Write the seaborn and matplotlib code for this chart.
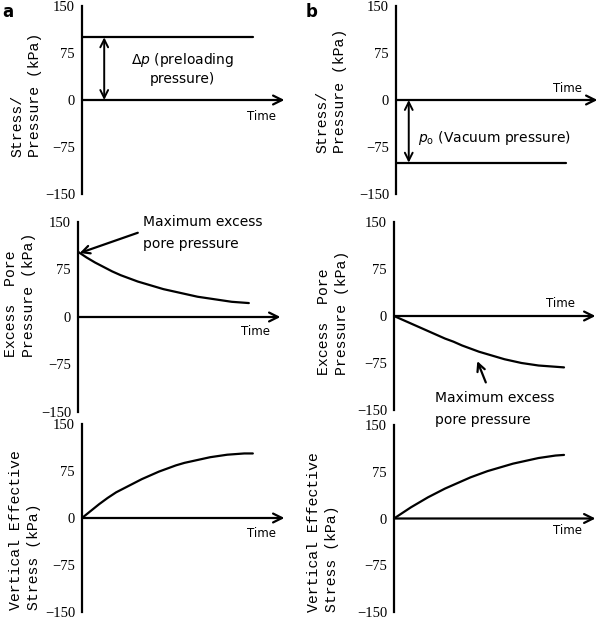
import matplotlib
matplotlib.use("Agg")
import matplotlib.pyplot as plt
import seaborn as sns

sns.set_theme(style="white")
plt.rcParams["text.color"] = "black"
plt.rcParams["ytick.color"] = "black"

# values (kPa), time in arbitrary units 0..10
time = [0, 0.5, 1, 1.5, 2, 2.5, 3, 3.5, 4, 4.5, 5,
        5.5, 6, 6.5, 7, 7.5, 8, 8.5, 9, 9.5, 10]
load_time = [0, 10]
preload_a = [100, 100]
vacuum_b = [-100, -100]
excess_a = [103, 94, 86, 79, 72, 66, 61, 56, 52, 48, 44,
            41, 38, 35, 32, 30, 28, 26, 24, 23, 22]
excess_b = [0, -6, -12, -18, -24, -30, -36, -41, -47, -52, -57,
            -61, -65, -69, -72, -75, -77, -79, -80, -81, -82]
effective_a = [0, 11, 22, 32, 41, 48, 55, 62, 68, 74, 79,
               84, 88, 91, 94, 97, 99, 101, 102, 103, 103]
effective_b = [0, 9, 18, 26, 34, 41, 48, 54, 60, 66, 71,
               76, 80, 84, 88, 91, 94, 97, 99, 101, 102]
y_ticks = [-150, -75, 0, 75, 150]

W, H = 600, 621
fig = plt.figure(figsize=(W / 100, H / 100), dpi=100)

tick_font = {"family": "Liberation Serif", "size": 10.5}
label_font = {"family": "Liberation Mono", "size": 10.7}
note_font = {"family": "DejaVu Sans", "size": 10}
time_font = {"family": "DejaVu Sans", "size": 8.5}


def make_ax(left, top, right, bottom):
    ax = fig.add_axes([left / W, 1 - bottom / H, (right - left) / W, (bottom - top) / H])
    ax.patch.set_visible(False)
    ax.set_xlim(0, 12)
    ax.set_ylim(-150, 150)
    for s in ["top", "right", "bottom"]:
        ax.spines[s].set_visible(False)
    ax.spines["left"].set_linewidth(1.6)
    ax.spines["left"].set_color("black")
    ax.set_xticks([])
    ax.set_yticks(y_ticks)
    ax.set_yticklabels([str(t).replace("-", "\u2212") for t in y_ticks], fontdict=tick_font)
    ax.set_yticks([-150, 150], minor=True)
    ax.tick_params(axis="y", which="major", length=0, pad=5)
    ax.tick_params(axis="y", which="minor", direction="in", length=4, width=1.6,
                   left=True, color="black")
    # time axis with arrow
    ax.annotate("", xy=(11.85, 0), xytext=(0, 0),
                arrowprops=dict(arrowstyle="->", lw=1.6, color="black",
                                mutation_scale=16, shrinkA=0, shrinkB=0),
                annotation_clip=False)
    return ax


def curve(ax, x, y):
    sns.lineplot(x=x, y=y, ax=ax, color="black", lw=1.6)
    ax.set_xlabel("")
    ax.set_ylabel("")


def ylab(x, y, text):
    fig.text(x / W, 1 - y / H, text, rotation=90, ha="center", va="bottom",
             multialignment="left", linespacing=1.3, fontdict=label_font)


# ---- column a ----
ax1 = make_ax(82, 6, 287, 194)
curve(ax1, load_time, preload_a)
ax1.annotate("", xy=(1.3, 100), xytext=(1.3, 0),
             arrowprops=dict(arrowstyle="<->", lw=1.4, color="black",
                             mutation_scale=14, shrinkA=0, shrinkB=0))
ax1.text(5.9, 50, "\u0394$\\it{p}$ (preloading\npressure)", ha="center", va="center",
         linespacing=1.3, fontdict=note_font)
ax1.text(10.5, -27, "Time", ha="center", va="center", fontdict=time_font)
ylab(26, 157, "Stress/\nPressure (kPa)")

ax2 = make_ax(78, 222, 283, 412)
curve(ax2, time, excess_a)
ax2.annotate("", xy=(0.1, 101), xytext=(3.5, 133),
             arrowprops=dict(arrowstyle="->", lw=1.6, color="black",
                             mutation_scale=14, shrinkA=0, shrinkB=0),
             annotation_clip=False)
ax2.text(3.8, 133, "Maximum excess\npore pressure", ha="left", va="center",
         linespacing=1.75, fontdict=note_font, clip_on=False)
ax2.text(10.4, -23, "Time", ha="center", va="center", fontdict=time_font)
ylab(20, 357, "Excess  Pore\nPressure (kPa)")

ax3 = make_ax(82, 424, 287, 612)
curve(ax3, time, effective_a)
ax3.text(10.5, -24, "Time", ha="center", va="center", fontdict=time_font)
ylab(25, 610, "Vertical Effective\nStress (kPa)")

# ---- column b ----
ax4 = make_ax(396, 6, 600, 194)
curve(ax4, load_time, vacuum_b)
ax4.annotate("", xy=(0.75, -100), xytext=(0.75, 0),
             arrowprops=dict(arrowstyle="<->", lw=1.4, color="black",
                             mutation_scale=14, shrinkA=0, shrinkB=0))
ax4.text(1.3, -60, "$\\it{p}_{\\rm o}$ (Vacuum pressure)", ha="left", va="center", fontdict=note_font)
ax4.text(10.1, 19, "Time", ha="center", va="center", fontdict=time_font)
ylab(331, 153, "Stress/\nPressure (kPa)")

ax5 = make_ax(394, 222, 598, 410)
curve(ax5, time, excess_b)
ax5.annotate("", xy=(4.9, -72), xytext=(5.4, -106),
             arrowprops=dict(arrowstyle="->", lw=1.6, color="black",
                             mutation_scale=14, shrinkA=0, shrinkB=0))
ax5.text(2.4, -148, "Maximum excess\npore pressure", ha="left", va="center",
         linespacing=1.75, fontdict=note_font, clip_on=False)
ax5.text(9.8, 20, "Time", ha="center", va="center", fontdict=time_font)
ylab(333, 375, "Excess  Pore\nPressure (kPa)")

ax6 = make_ax(394, 425, 598, 612)
curve(ax6, time, effective_b)
ax6.text(10.2, -19, "Time", ha="center", va="center", fontdict=time_font)
ylab(323, 612, "Vertical Effective\nStress (kPa)")

fig.text(8 / W, 1 - 12 / H, "a", fontsize=12, fontweight="bold", ha="center", va="center", family="DejaVu Sans")
fig.text(312 / W, 1 - 12 / H, "b", fontsize=12, fontweight="bold", ha="center", va="center", family="DejaVu Sans")

fig.savefig("out.png", dpi=100)
